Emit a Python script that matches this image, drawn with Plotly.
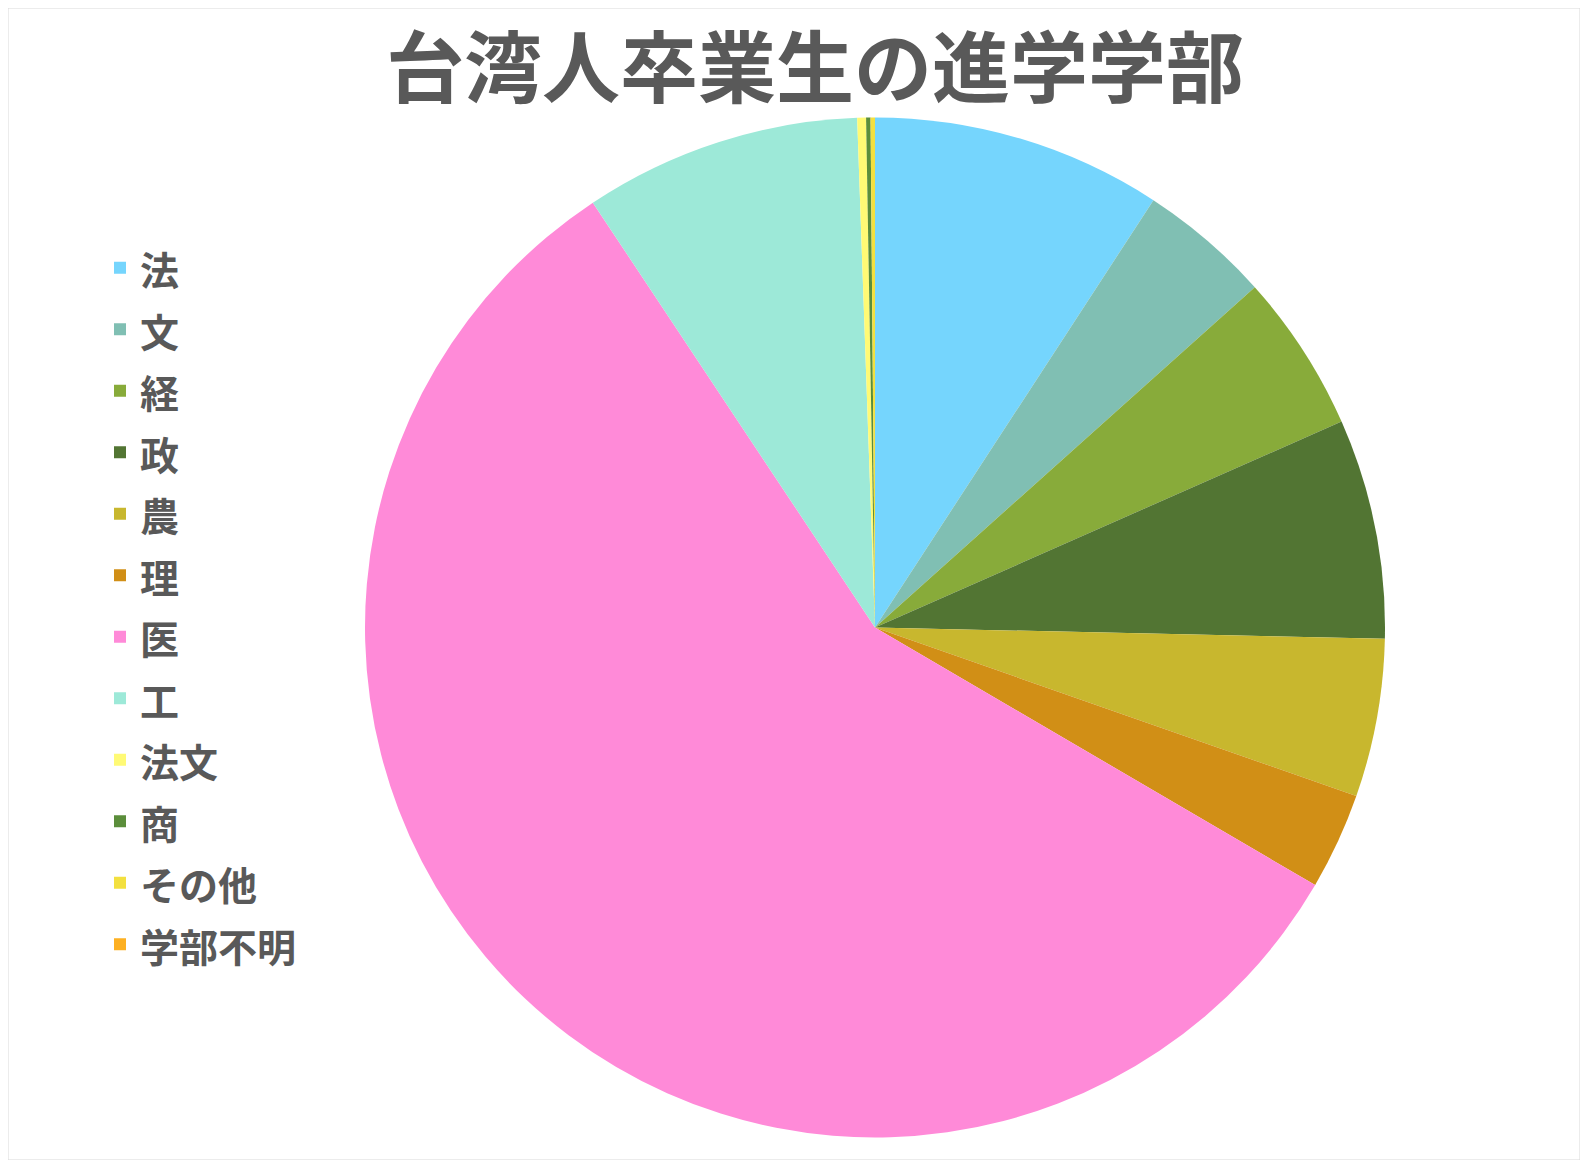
import plotly.graph_objects as go

# 台湾人卒業生の進学学部 (人数)
labels = ["法", "文", "経", "政", "農", "理", "医", "工", "法文", "商", "その他", "学部不明"]
values = [66, 30, 36, 50, 36, 22, 411, 63, 2, 1, 1, 0]
colors = ["#75D5FD", "#80BFB3", "#88AB3A", "#527533", "#C8B72E", "#D18F16",
          "#FF8AD8", "#9DE9D8", "#FFFA75", "#5B8E3B", "#F3E03F", "#FDB022"]

# page body has an 8px margin, so the figure is a bit smaller and shifted
M = 8
W, H = 1588 - 2 * M, 1168 - 2 * M
cx, cy, r = 875 - M, 627.5 - M, 510

fig = go.Figure(go.Pie(
    labels=["<span style='font-size:39px'><b>%s</b></span>" % s for s in labels],
    values=values,
    marker=dict(colors=colors, line=dict(width=0)),
    sort=False,
    direction="clockwise",
    rotation=0,
    textinfo="none",
    hoverinfo="label+value+percent",
    domain=dict(x=[(cx - r) / W, (cx + r) / W], y=[1 - (cy + r) / H, 1 - (cy - r) / H]),
))

fig.update_layout(
    width=W, height=H,
    margin=dict(l=0, r=0, t=0, b=0),
    paper_bgcolor="white",
    font=dict(family="Noto Sans CJK JP", color="#595959"),
    title=dict(text="<b>台湾人卒業生の進学学部</b>", x=(815 - M) / W, xanchor="center",
               y=1 - (70 - M) / H, yanchor="middle",
               font=dict(size=78, color="#595959", family="Noto Sans CJK JP")),
    legend=dict(x=(100 - M) / W, xanchor="left", y=1 - (232 - M) / H, yanchor="top",
                font=dict(size=45, color="#595959", family="Noto Sans CJK JP"),
                bgcolor="rgba(0,0,0,0)"),
    shapes=[dict(type="rect", xref="paper", yref="paper", x0=0, y0=0, x1=1, y1=1,
                 line=dict(color="#D9D9D9", width=1))],
)

fig.write_html("out.html")
